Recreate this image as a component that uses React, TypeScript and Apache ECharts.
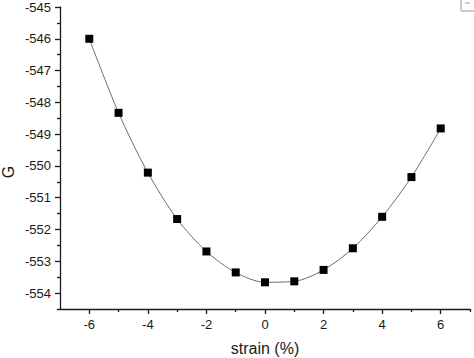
import React, { useEffect, useRef } from "react";
import * as echarts from "echarts";

const strain = [-6, -5, -4, -3, -2, -1, 0, 1, 2, 3, 4, 5, 6];
const G = [-546.0, -548.33, -550.21, -551.67, -552.69, -553.35, -553.66, -553.63, -553.27, -552.59, -551.6, -550.35, -548.82];
const xMajor = [-6, -4, -2, 0, 2, 4, 6];
const xMinor = [-5, -3, -1, 1, 3, 5, 7];
const yMajor = [-554, -553, -552, -551, -550, -549, -548, -547, -546, -545];
const yMinor = [-554.5, -553.5, -552.5, -551.5, -550.5, -549.5, -548.5, -547.5, -546.5, -545.5];
const yTitle = "G";
const xTitle = "strain (%)";

const FONT = "Liberation Sans, Arial, sans-serif";
const AXIS_COLOR = "#1a1a1a";

export default function App() {
  const ref = useRef<HTMLDivElement>(null);
  useEffect(() => {
    if (!ref.current) return;
    const chart = echarts.init(ref.current, null, { renderer: "svg" });
    const baseX = {
      type: "value",
      gridIndex: 0,
      min: -7,
      max: 7,
      splitLine: { show: false },
    };
    const baseY = {
      type: "value",
      gridIndex: 0,
      min: -554.5,
      max: -545,
      splitLine: { show: false },
    };
    chart.setOption({
      animation: false,
      backgroundColor: "#ffffff",
      grid: { left: 60, top: 7, right: 4, bottom: 49, containLabel: false, outerBoundsMode: "none" },
      xAxis: [
        {
          ...baseX,
          position: "bottom",
          name: xTitle,
          nameLocation: "middle",
          nameGap: 31,
          nameTextStyle: { fontFamily: FONT, fontSize: 16, color: AXIS_COLOR },
          axisLine: { show: true, onZero: false, lineStyle: { color: AXIS_COLOR, width: 1.3 } },
          axisTick: { show: true, inside: false, length: 5, customValues: xMajor, lineStyle: { color: AXIS_COLOR, width: 1.3 } },
          axisLabel: { show: true, customValues: xMajor, margin: 9, fontFamily: FONT, fontSize: 13, color: AXIS_COLOR },
        },
        {
          ...baseX,
          position: "bottom",
          axisLine: { show: false, onZero: false },
          axisTick: { show: true, inside: false, length: 3, customValues: xMinor, lineStyle: { color: AXIS_COLOR, width: 1.3 } },
          axisLabel: { show: false },
        },
      ],
      yAxis: [
        {
          ...baseY,
          position: "left",
          axisLine: { show: true, onZero: false, lineStyle: { color: AXIS_COLOR, width: 1.3 } },
          axisTick: { show: true, inside: false, length: 5, customValues: yMajor, lineStyle: { color: AXIS_COLOR, width: 1.3 } },
          axisLabel: { show: true, customValues: yMajor, margin: 9, fontFamily: FONT, fontSize: 13, color: AXIS_COLOR },
        },
        {
          ...baseY,
          position: "left",
          axisLine: { show: false, onZero: false },
          axisTick: { show: true, inside: false, length: 3, customValues: yMinor, lineStyle: { color: AXIS_COLOR, width: 1.3 } },
          axisLabel: { show: false },
        },
      ],
      graphic: [
        {
          type: "text",
          x: 8,
          y: 172,
          rotation: Math.PI / 2,
          style: { text: yTitle, fontFamily: FONT, fontSize: 16, fill: AXIS_COLOR, align: "center", verticalAlign: "middle" },
        },
        {
          type: "rect",
          shape: { x: 461, y: -2, width: 20, height: 13 },
          style: { fill: "#ffffff", stroke: "#9a9a9a", lineWidth: 1 },
        },
        {
          type: "line",
          shape: { x1: 465, y1: 3, x2: 470, y2: 3 },
          style: { stroke: "#9a9a9a", lineWidth: 1 },
        },
      ],
      series: [
        {
          type: "line",
          xAxisIndex: 0,
          yAxisIndex: 0,
          data: strain.map((x, i) => [x, G[i]]),
          smooth: 0.3,
          symbol: "rect",
          symbolSize: 8,
          itemStyle: { color: "#000000" },
          lineStyle: { color: "#6e6e6e", width: 1 },
        },
      ],
    });
    return () => chart.dispose();
  }, []);
  return <div ref={ref} style={{ width: 474, height: 358, position: "absolute", left: 0, top: 0 }} />;
}
